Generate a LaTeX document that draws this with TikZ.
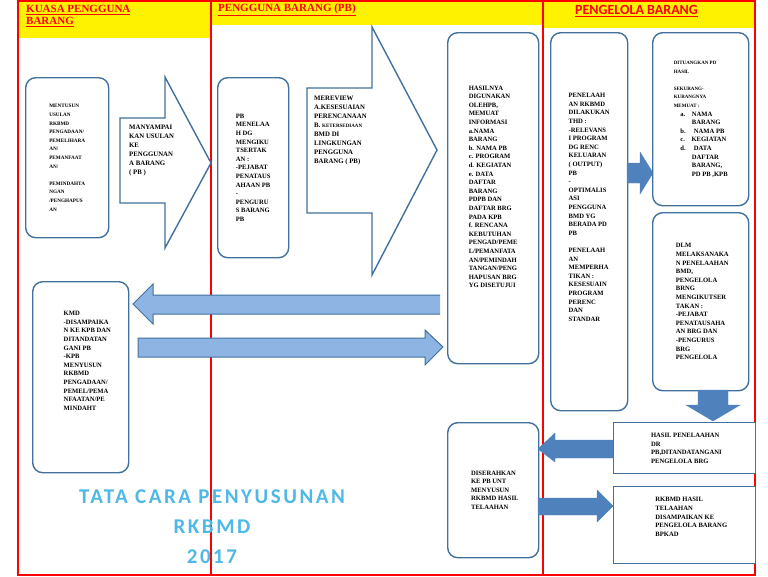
\documentclass[tikz,border=0pt]{standalone}
\usepackage{fontspec}
\setmainfont{Liberation Serif}
\newfontfamily\carfont{Carlito}
\begin{document}
\definecolor{bb}{HTML}{41719C}
\definecolor{lf}{HTML}{8EB4E3}
\definecolor{df}{HTML}{4F81BD}
\definecolor{tb}{HTML}{4FB8E6}
\begin{tikzpicture}[x=1pt,y=-1pt,
 box/.style={draw=bb,line width=1.4pt,rounded corners=10pt,fill=white,anchor=north west,align=left,inner sep=4pt,font=\fontsize{6.6}{8.6}\selectfont\bfseries},
 rbox/.style={box,rounded corners=0pt},
 hd/.style={font=\fontsize{11}{12}\selectfont\bfseries,text=red,anchor=north west,align=left,inner sep=0pt},
 oarr/.style={draw=bb,line width=1.4pt,fill=white,line join=miter},
 larr/.style={draw=bb,line width=1pt,fill=lf},
 darr/.style={draw=df,fill=df}]
\useasboundingbox (0,0) rectangle (768,576);
\fill[white] (0,0) rectangle (768,576);
% headers
\fill[yellow] (18,1) rectangle (211,38);
\fill[yellow] (211,1) rectangle (543,25);
\fill[yellow] (543,1) rectangle (755,28);
\draw[red,line width=1.3pt] (18,1) rectangle (211,575);
\draw[red,line width=1.3pt] (211,1) rectangle (543,575);
\draw[red,line width=1.3pt] (543,1) rectangle (755,575);
\node[hd] (h1) at (26,5) {\underline{KUASA PENGGUNA}\\\underline{BARANG}};
\node[hd] (h2) at (218,4) {\underline{PENGGUNA BARANG (PB)}};
\node[hd,font=\carfont\fontsize{14}{15}\selectfont\bfseries] (h3) at (575,5) {\underline{PENGELOLA BARANG}};
% outline arrows
\draw[oarr] (120,118) -- (165,118) -- (165,77) -- (211,163) -- (165,248) -- (165,203) -- (120,203) -- cycle;
\draw[oarr] (307,88) -- (372,88) -- (372,27) -- (437,150) -- (372,275) -- (372,213) -- (307,213) -- cycle;
\node[anchor=north west,align=left,inner sep=0pt,font=\fontsize{6.8}{9}\selectfont\bfseries] (t1) at (129,125) {MANYAMPAI\\KAN USULAN\\KE\\PENGGUNAN\\A BARANG\\( PB )};
\node[anchor=north west,align=left,inner sep=0pt,font=\fontsize{6.8}{9}\selectfont\bfseries] (t2) at (314,96) {MEREVIEW\\A.KESESUAIAN\\PERENCANAAN\\B. {\fontsize{5}{9}\selectfont KETERSEDIAAN}\\BMD DI\\LINGKUNGAN\\PENGGUNA\\BARANG ( PB)};
% long arrows
\draw[larr] (440,295) -- (153,295) -- (153,284) -- (133,304) -- (153,324) -- (153,314) -- (440,314);
\draw[larr] (138,338) -- (425,338) -- (425,330) -- (443,347) -- (425,365) -- (425,357) -- (138,357) -- cycle;
% boxes
\node[box,minimum width=83pt,minimum height=160pt,font=\fontsize{5.2}{8.6}\selectfont\bfseries] (a) at (25,77) {MENTUSUN\\USULAN\\RKBMD\\PENGADAAN/\\PEMELIHARA\\AN/\\PEMANFAAT\\AN/\\\\PEMINDAHTA\\NGAN\\/PENGHAPUS\\AN};
\node[box,minimum width=71pt,minimum height=180pt,anchor=north west] (b) at (217,77) {PB\\MENELAA\\H DG\\MENGIKU\\TSERTAK\\AN :\\-PEJABAT\\PENATAUS\\AHAAN PB\\-\\PENGURU\\S BARANG\\PB};
\node[box,minimum width=91pt,minimum height=331pt] (c) at (447,32) {HASILNYA\\DIGUNAKAN\\OLEHPB,\\MEMUAT\\INFORMASI\\a.NAMA\\BARANG\\b. NAMA PB\\c. PROGRAM\\d. KEGIATAN\\e. DATA\\DAFTAR\\BARANG\\PDPB DAN\\DAFTAR BRG\\PADA KPB\\f. RENCANA\\KEBUTUHAN\\PENGAD/PEME\\L/PEMANFATA\\AN/PEMINDAH\\TANGAN/PENG\\HAPUSAN BRG\\YG DISETUJUI\\[14pt]};
\node[box,minimum width=77pt,minimum height=378pt] (d) at (550,32) {PENELAAH\\AN RKBMD\\DILAKUKAN\\THD :\\-RELEVANS\\I PROGRAM\\DG RENC\\KELUARAN\\( OUTPUT)\\PB\\-\\OPTIMALIS\\ASI\\PENGGUNA\\BMD YG\\BERADA PD\\PB\\\\PENELAAH\\AN\\MEMPERHA\\TIKAN :\\KESESUAIN\\PROGRAM\\PERENC\\DAN\\STANDAR\\[20pt]};
\draw[darr] (627,163) -- (640,163) -- (640,152) -- (653,173) -- (640,194) -- (640,183) -- (627,183) -- cycle;
\node[box,minimum width=96pt,minimum height=173pt,font=\fontsize{6.6}{8.6}\selectfont\bfseries] (e) at (652,32) {{\fontsize{5}{8}\selectfont DITUANGKAN PD}\\{\fontsize{5}{8}\selectfont HASIL}\\\\{\fontsize{5}{8}\selectfont SEKURANG-}\\{\fontsize{5}{8}\selectfont KURANGNYA}\\{\fontsize{5}{8}\selectfont MEMUAT :}\\
\quad a.\quad NAMA\\\phantom{\quad a.\quad }BARANG\\\quad b.\quad\ NAMA PB\\\quad c.\quad KEGIATAN\\\quad d.\quad\ DATA\\\phantom{\quad a.\quad }DAFTAR\\\phantom{\quad a.\quad }BARANG,\\\phantom{\quad a.\quad }PD PB ,KPB};
\node[box,minimum width=96pt,minimum height=178pt] (f) at (652,212) {\ \ DLM\\\ \ MELAKSANAKA\\\ \ N PENELAAHAN\\\ \ BMD,\\\ \ PENGELOLA\\\ \ BRNG\\\ \ MENGIKUTSER\\\ \ TAKAN :\\\ \ -PEJABAT\\\ \ PENATAUSAHA\\\ \ AN BRG DAN\\\ \ -PENGURUS\\\ \ BRG\\\ \ PENGELOLA};
\draw[darr] (698,390) -- (728,390) -- (728,405) -- (740,405) -- (713,421) -- (686,405) -- (698,405) -- cycle;
\node[rbox,minimum width=142pt,minimum height=51pt] (g) at (613,422) {\ \ HASIL PENELAAHAN\\\ \ DR\\\ \ PB,DITANDATANGANI\\\ \ PENGELOLA BRG};
\node[rbox,minimum width=142pt,minimum height=77pt] (h) at (613,486) {\qquad RKBMD HASIL\\\qquad TELAAHAN\\\qquad DISAMPAIKAN KE\\\qquad PENGELOLA BARANG\\\qquad BPKAD\\[8pt]};
\node[box,minimum width=91pt,minimum height=135pt] (i) at (447,422) {\ \ DISERAHKAN\\\ \ KE PB UNT\\\ \ MENYUSUN\\\ \ RKBMD HASIL\\\ \ TELAAHAN};
\draw[darr] (613,440) -- (555,440) -- (555,433) -- (538,449) -- (555,462) -- (555,458) -- (613,458) -- cycle;
\draw[darr] (538,498) -- (597,498) -- (597,490) -- (613,506) -- (597,522) -- (597,515) -- (538,515) -- cycle;
\node[box,minimum width=96pt,minimum height=191pt] (j) at (32,281) {\qquad KMD\\\qquad -DISAMPAIKA\\\qquad N KE KPB DAN\\\qquad DITANDATAN\\\qquad GANI PB\\\qquad -KPB\\\qquad MENYUSUN\\\qquad RKBMD\\\qquad PENGADAAN/\\\qquad PEMEL/PEMA\\\qquad NFAATAN/PE\\\qquad MINDAHT\\[24pt]};
% title
\node[font=\carfont\fontsize{21}{30}\selectfont\bfseries\addfontfeature{LetterSpace=12},text=tb,align=center] (title) at (212,527) {TATA CARA PENYUSUNAN\\RKBMD\\2017};
\end{tikzpicture}
\end{document}
